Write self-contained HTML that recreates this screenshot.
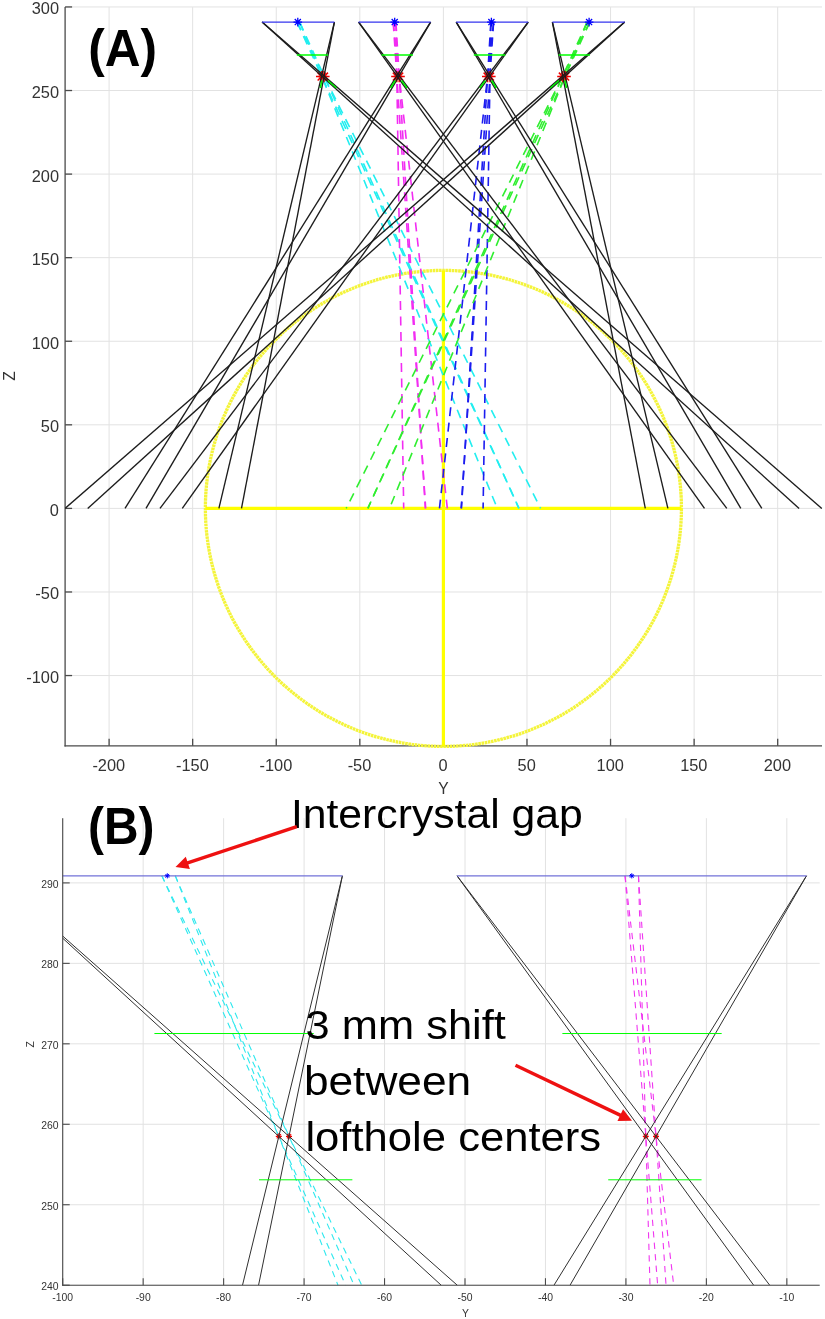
<!DOCTYPE html>
<html><head><meta charset="utf-8"><title>Lofthole collimator geometry</title>
<style>
html,body{margin:0;padding:0;background:#fff;}
svg{display:block;}
text{font-family:'Liberation Sans', Arial, Helvetica, sans-serif;}
</style></head><body>
<svg width="825" height="1319" viewBox="0 0 825 1319">
<rect width="825" height="1319" fill="#fff"/>
<g id="panelA">
<defs><clipPath id="cA"><rect x="65.1" y="6.1" width="757.9" height="742.7"/></clipPath><clipPath id="cB"><rect x="62.7" y="818.2" width="757" height="467.5"/></clipPath></defs>
<line x1="109.1" y1="7.1" x2="109.1" y2="745.8" stroke="#e2e2e2" stroke-width="1"/>
<line x1="192.67" y1="7.1" x2="192.67" y2="745.8" stroke="#e2e2e2" stroke-width="1"/>
<line x1="276.25" y1="7.1" x2="276.25" y2="745.8" stroke="#e2e2e2" stroke-width="1"/>
<line x1="359.82" y1="7.1" x2="359.82" y2="745.8" stroke="#e2e2e2" stroke-width="1"/>
<line x1="443.4" y1="7.1" x2="443.4" y2="745.8" stroke="#e2e2e2" stroke-width="1"/>
<line x1="526.98" y1="7.1" x2="526.98" y2="745.8" stroke="#e2e2e2" stroke-width="1"/>
<line x1="610.55" y1="7.1" x2="610.55" y2="745.8" stroke="#e2e2e2" stroke-width="1"/>
<line x1="694.12" y1="7.1" x2="694.12" y2="745.8" stroke="#e2e2e2" stroke-width="1"/>
<line x1="777.7" y1="7.1" x2="777.7" y2="745.8" stroke="#e2e2e2" stroke-width="1"/>
<line x1="65.1" y1="675.55" x2="822" y2="675.55" stroke="#e2e2e2" stroke-width="1"/>
<line x1="65.1" y1="591.98" x2="822" y2="591.98" stroke="#e2e2e2" stroke-width="1"/>
<line x1="65.1" y1="508.4" x2="822" y2="508.4" stroke="#e2e2e2" stroke-width="1"/>
<line x1="65.1" y1="424.82" x2="822" y2="424.82" stroke="#e2e2e2" stroke-width="1"/>
<line x1="65.1" y1="341.25" x2="822" y2="341.25" stroke="#e2e2e2" stroke-width="1"/>
<line x1="65.1" y1="257.67" x2="822" y2="257.67" stroke="#e2e2e2" stroke-width="1"/>
<line x1="65.1" y1="174.1" x2="822" y2="174.1" stroke="#e2e2e2" stroke-width="1"/>
<line x1="65.1" y1="90.52" x2="822" y2="90.52" stroke="#e2e2e2" stroke-width="1"/>
<line x1="65.1" y1="6.95" x2="822" y2="6.95" stroke="#e2e2e2" stroke-width="1"/>
<line x1="65.1" y1="7.1" x2="65.1" y2="746.4" stroke="#4a4a4a" stroke-width="1.3"/>
<line x1="64.5" y1="745.8" x2="822" y2="745.8" stroke="#4a4a4a" stroke-width="1.3"/>
<line x1="109.1" y1="745.8" x2="109.1" y2="738.8" stroke="#4a4a4a" stroke-width="1.3"/>
<line x1="192.67" y1="745.8" x2="192.67" y2="738.8" stroke="#4a4a4a" stroke-width="1.3"/>
<line x1="276.25" y1="745.8" x2="276.25" y2="738.8" stroke="#4a4a4a" stroke-width="1.3"/>
<line x1="359.82" y1="745.8" x2="359.82" y2="738.8" stroke="#4a4a4a" stroke-width="1.3"/>
<line x1="443.4" y1="745.8" x2="443.4" y2="738.8" stroke="#4a4a4a" stroke-width="1.3"/>
<line x1="526.98" y1="745.8" x2="526.98" y2="738.8" stroke="#4a4a4a" stroke-width="1.3"/>
<line x1="610.55" y1="745.8" x2="610.55" y2="738.8" stroke="#4a4a4a" stroke-width="1.3"/>
<line x1="694.12" y1="745.8" x2="694.12" y2="738.8" stroke="#4a4a4a" stroke-width="1.3"/>
<line x1="777.7" y1="745.8" x2="777.7" y2="738.8" stroke="#4a4a4a" stroke-width="1.3"/>
<line x1="65.1" y1="675.55" x2="72.1" y2="675.55" stroke="#4a4a4a" stroke-width="1.3"/>
<line x1="65.1" y1="591.98" x2="72.1" y2="591.98" stroke="#4a4a4a" stroke-width="1.3"/>
<line x1="65.1" y1="508.4" x2="72.1" y2="508.4" stroke="#4a4a4a" stroke-width="1.3"/>
<line x1="65.1" y1="424.82" x2="72.1" y2="424.82" stroke="#4a4a4a" stroke-width="1.3"/>
<line x1="65.1" y1="341.25" x2="72.1" y2="341.25" stroke="#4a4a4a" stroke-width="1.3"/>
<line x1="65.1" y1="257.67" x2="72.1" y2="257.67" stroke="#4a4a4a" stroke-width="1.3"/>
<line x1="65.1" y1="174.1" x2="72.1" y2="174.1" stroke="#4a4a4a" stroke-width="1.3"/>
<line x1="65.1" y1="90.52" x2="72.1" y2="90.52" stroke="#4a4a4a" stroke-width="1.3"/>
<line x1="65.1" y1="6.95" x2="72.1" y2="6.95" stroke="#4a4a4a" stroke-width="1.3"/>
<g clip-path="url(#cA)">
<circle cx="443.4" cy="508.4" r="238.02" fill="none" stroke="#f4f43a" stroke-width="3.3" stroke-dasharray="2.6 0.6"/>
<line x1="205.38" y1="508.4" x2="681.42" y2="508.4" stroke="#ffff00" stroke-width="3.2"/>
<line x1="443.4" y1="270.38" x2="443.4" y2="746.42" stroke="#ffff00" stroke-width="3.2"/>
<line x1="297" y1="22.1" x2="518.95" y2="508.4" stroke="#22eef0" stroke-width="1.6" stroke-dasharray="9 6.5"/>
<line x1="297" y1="22.1" x2="540.6" y2="508.4" stroke="#22eef0" stroke-width="1.6" stroke-dasharray="9 6.5"/>
<line x1="299.7" y1="22.1" x2="497.29" y2="508.4" stroke="#22eef0" stroke-width="1.6" stroke-dasharray="9 6.5"/>
<line x1="299.7" y1="22.1" x2="518.94" y2="508.4" stroke="#22eef0" stroke-width="1.6" stroke-dasharray="9 6.5"/>
<line x1="393.2" y1="22.1" x2="425.68" y2="508.4" stroke="#f22cf2" stroke-width="1.6" stroke-dasharray="9 6.5"/>
<line x1="393.2" y1="22.1" x2="447.33" y2="508.4" stroke="#f22cf2" stroke-width="1.6" stroke-dasharray="9 6.5"/>
<line x1="395.94" y1="22.1" x2="403.7" y2="508.4" stroke="#f22cf2" stroke-width="1.6" stroke-dasharray="9 6.5"/>
<line x1="395.94" y1="22.1" x2="425.35" y2="508.4" stroke="#f22cf2" stroke-width="1.6" stroke-dasharray="9 6.5"/>
<line x1="490.86" y1="22.1" x2="461.45" y2="508.4" stroke="#1c1cf0" stroke-width="1.6" stroke-dasharray="9 6.5"/>
<line x1="490.86" y1="22.1" x2="483.1" y2="508.4" stroke="#1c1cf0" stroke-width="1.6" stroke-dasharray="9 6.5"/>
<line x1="493.6" y1="22.1" x2="439.47" y2="508.4" stroke="#1c1cf0" stroke-width="1.6" stroke-dasharray="9 6.5"/>
<line x1="493.6" y1="22.1" x2="461.12" y2="508.4" stroke="#1c1cf0" stroke-width="1.6" stroke-dasharray="9 6.5"/>
<line x1="587.1" y1="22.1" x2="367.86" y2="508.4" stroke="#30ee30" stroke-width="1.6" stroke-dasharray="9 6.5"/>
<line x1="587.1" y1="22.1" x2="389.51" y2="508.4" stroke="#30ee30" stroke-width="1.6" stroke-dasharray="9 6.5"/>
<line x1="589.8" y1="22.1" x2="346.2" y2="508.4" stroke="#30ee30" stroke-width="1.6" stroke-dasharray="9 6.5"/>
<line x1="589.8" y1="22.1" x2="367.85" y2="508.4" stroke="#30ee30" stroke-width="1.6" stroke-dasharray="9 6.5"/>
<path d="M316 76.6L327.2 76.6M317.64 72.64L325.56 80.56M321.6 71L321.6 82.2M325.56 72.64L317.64 80.56" stroke="#ee0000" stroke-width="1.5" fill="none"/>
<path d="M318.4 76.6L329.6 76.6M320.04 72.64L327.96 80.56M324 71L324 82.2M327.96 72.64L320.04 80.56" stroke="#ee0000" stroke-width="1.5" fill="none"/>
<path d="M391.2 76.6L402.4 76.6M392.84 72.64L400.76 80.56M396.8 71L396.8 82.2M400.76 72.64L392.84 80.56" stroke="#ee0000" stroke-width="1.5" fill="none"/>
<path d="M393.6 76.6L404.8 76.6M395.24 72.64L403.16 80.56M399.2 71L399.2 82.2M403.16 72.64L395.24 80.56" stroke="#ee0000" stroke-width="1.5" fill="none"/>
<path d="M482 76.6L493.2 76.6M483.64 72.64L491.56 80.56M487.6 71L487.6 82.2M491.56 72.64L483.64 80.56" stroke="#ee0000" stroke-width="1.5" fill="none"/>
<path d="M484.4 76.6L495.6 76.6M486.04 72.64L493.96 80.56M490 71L490 82.2M493.96 72.64L486.04 80.56" stroke="#ee0000" stroke-width="1.5" fill="none"/>
<path d="M557.2 76.6L568.4 76.6M558.84 72.64L566.76 80.56M562.8 71L562.8 82.2M566.76 72.64L558.84 80.56" stroke="#ee0000" stroke-width="1.5" fill="none"/>
<path d="M559.6 76.6L570.8 76.6M561.24 72.64L569.16 80.56M565.2 71L565.2 82.2M569.16 72.64L561.24 80.56" stroke="#ee0000" stroke-width="1.5" fill="none"/>
<line x1="262.1" y1="22.1" x2="799.1" y2="508.4" stroke="#1c1c1c" stroke-width="1.35"/>
<line x1="262.1" y1="22.1" x2="821.8" y2="508.4" stroke="#1c1c1c" stroke-width="1.35"/>
<line x1="334.4" y1="22.1" x2="218.9" y2="508.4" stroke="#1c1c1c" stroke-width="1.35"/>
<line x1="334.4" y1="22.1" x2="241.5" y2="508.4" stroke="#1c1c1c" stroke-width="1.35"/>
<line x1="358.6" y1="22.1" x2="704.5" y2="508.4" stroke="#1c1c1c" stroke-width="1.35"/>
<line x1="358.6" y1="22.1" x2="726.8" y2="508.4" stroke="#1c1c1c" stroke-width="1.35"/>
<line x1="430.6" y1="22.1" x2="125" y2="508.4" stroke="#1c1c1c" stroke-width="1.35"/>
<line x1="430.6" y1="22.1" x2="146" y2="508.4" stroke="#1c1c1c" stroke-width="1.35"/>
<line x1="456.2" y1="22.1" x2="761.8" y2="508.4" stroke="#1c1c1c" stroke-width="1.35"/>
<line x1="456.2" y1="22.1" x2="740.8" y2="508.4" stroke="#1c1c1c" stroke-width="1.35"/>
<line x1="528.2" y1="22.1" x2="182.3" y2="508.4" stroke="#1c1c1c" stroke-width="1.35"/>
<line x1="528.2" y1="22.1" x2="160" y2="508.4" stroke="#1c1c1c" stroke-width="1.35"/>
<line x1="552.4" y1="22.1" x2="667.9" y2="508.4" stroke="#1c1c1c" stroke-width="1.35"/>
<line x1="552.4" y1="22.1" x2="645.3" y2="508.4" stroke="#1c1c1c" stroke-width="1.35"/>
<line x1="624.7" y1="22.1" x2="87.7" y2="508.4" stroke="#1c1c1c" stroke-width="1.35"/>
<line x1="624.7" y1="22.1" x2="65" y2="508.4" stroke="#1c1c1c" stroke-width="1.35"/>
<line x1="296.8" y1="54.9" x2="328.2" y2="54.9" stroke="#00ff00" stroke-width="1.5"/>
<line x1="381.5" y1="54.9" x2="413" y2="54.9" stroke="#00ff00" stroke-width="1.5"/>
<line x1="473.8" y1="54.9" x2="505.3" y2="54.9" stroke="#00ff00" stroke-width="1.5"/>
<line x1="558.6" y1="54.9" x2="590" y2="54.9" stroke="#00ff00" stroke-width="1.5"/>
<line x1="321.89" y1="80.5" x2="320.28" y2="88" stroke="#00ee00" stroke-width="1.6"/>
<line x1="327.95" y1="80.5" x2="336.41" y2="88" stroke="#00ee00" stroke-width="1.6"/>
<line x1="395.16" y1="80.5" x2="390.61" y2="88" stroke="#00ee00" stroke-width="1.6"/>
<line x1="401.48" y1="80.5" x2="406.98" y2="88" stroke="#00ee00" stroke-width="1.6"/>
<line x1="485.32" y1="80.5" x2="479.82" y2="88" stroke="#00ee00" stroke-width="1.6"/>
<line x1="491.64" y1="80.5" x2="496.19" y2="88" stroke="#00ee00" stroke-width="1.6"/>
<line x1="558.85" y1="80.5" x2="550.39" y2="88" stroke="#00ee00" stroke-width="1.6"/>
<line x1="564.91" y1="80.5" x2="566.52" y2="88" stroke="#00ee00" stroke-width="1.6"/>
<line x1="262.1" y1="22.1" x2="334.4" y2="22.1" stroke="#3535ee" stroke-width="1.4"/>
<line x1="358.6" y1="22.1" x2="430.6" y2="22.1" stroke="#3535ee" stroke-width="1.4"/>
<line x1="456.2" y1="22.1" x2="528.2" y2="22.1" stroke="#3535ee" stroke-width="1.4"/>
<line x1="552.4" y1="22.1" x2="624.7" y2="22.1" stroke="#3535ee" stroke-width="1.4"/>
<path d="M293.5 22.1L302.1 22.1M294.76 19.06L300.84 25.14M297.8 17.8L297.8 26.4M300.84 19.06L294.76 25.14" stroke="#0000ff" stroke-width="1.3" fill="none"/>
<path d="M390.4 22.1L399 22.1M391.66 19.06L397.74 25.14M394.7 17.8L394.7 26.4M397.74 19.06L391.66 25.14" stroke="#0000ff" stroke-width="1.3" fill="none"/>
<path d="M487.1 22.1L495.7 22.1M488.36 19.06L494.44 25.14M491.4 17.8L491.4 26.4M494.44 19.06L488.36 25.14" stroke="#0000ff" stroke-width="1.3" fill="none"/>
<path d="M584.8 22.1L593.4 22.1M586.06 19.06L592.14 25.14M589.1 17.8L589.1 26.4M592.14 19.06L586.06 25.14" stroke="#0000ff" stroke-width="1.3" fill="none"/>
</g>
<text x="108.8" y="770.5" text-anchor="middle" font-size="15.6" fill="#333333" textLength="32.78" lengthAdjust="spacingAndGlyphs">-200</text>
<text x="192.37" y="770.5" text-anchor="middle" font-size="15.6" fill="#333333" textLength="32.78" lengthAdjust="spacingAndGlyphs">-150</text>
<text x="275.95" y="770.5" text-anchor="middle" font-size="15.6" fill="#333333" textLength="32.78" lengthAdjust="spacingAndGlyphs">-100</text>
<text x="359.52" y="770.5" text-anchor="middle" font-size="15.6" fill="#333333" textLength="23.67" lengthAdjust="spacingAndGlyphs">-50</text>
<text x="443.1" y="770.5" text-anchor="middle" font-size="15.6" fill="#333333" textLength="9.11" lengthAdjust="spacingAndGlyphs">0</text>
<text x="526.68" y="770.5" text-anchor="middle" font-size="15.6" fill="#333333" textLength="18.21" lengthAdjust="spacingAndGlyphs">50</text>
<text x="610.25" y="770.5" text-anchor="middle" font-size="15.6" fill="#333333" textLength="27.32" lengthAdjust="spacingAndGlyphs">100</text>
<text x="693.83" y="770.5" text-anchor="middle" font-size="15.6" fill="#333333" textLength="27.32" lengthAdjust="spacingAndGlyphs">150</text>
<text x="777.4" y="770.5" text-anchor="middle" font-size="15.6" fill="#333333" textLength="27.32" lengthAdjust="spacingAndGlyphs">200</text>
<text x="59" y="682.95" text-anchor="end" font-size="15.6" fill="#333333" textLength="32.78" lengthAdjust="spacingAndGlyphs">-100</text>
<text x="59" y="599.38" text-anchor="end" font-size="15.6" fill="#333333" textLength="23.67" lengthAdjust="spacingAndGlyphs">-50</text>
<text x="59" y="515.8" text-anchor="end" font-size="15.6" fill="#333333" textLength="9.11" lengthAdjust="spacingAndGlyphs">0</text>
<text x="59" y="432.22" text-anchor="end" font-size="15.6" fill="#333333" textLength="18.21" lengthAdjust="spacingAndGlyphs">50</text>
<text x="59" y="348.65" text-anchor="end" font-size="15.6" fill="#333333" textLength="27.32" lengthAdjust="spacingAndGlyphs">100</text>
<text x="59" y="265.07" text-anchor="end" font-size="15.6" fill="#333333" textLength="27.32" lengthAdjust="spacingAndGlyphs">150</text>
<text x="59" y="181.5" text-anchor="end" font-size="15.6" fill="#333333" textLength="27.32" lengthAdjust="spacingAndGlyphs">200</text>
<text x="59" y="97.92" text-anchor="end" font-size="15.6" fill="#333333" textLength="27.32" lengthAdjust="spacingAndGlyphs">250</text>
<text x="59" y="14.35" text-anchor="end" font-size="15.6" fill="#333333" textLength="27.32" lengthAdjust="spacingAndGlyphs">300</text>
<text x="443.4" y="793.8" text-anchor="middle" font-size="15.6" fill="#333333">Y</text>
<text transform="translate(15.4 376) rotate(-90)" text-anchor="middle" font-size="15.6" fill="#333333">Z</text>
<text x="88.2" y="65.9" font-size="52" font-weight="bold" fill="#000" textLength="68.7" lengthAdjust="spacingAndGlyphs">(A)</text>
</g>
<g id="panelB">
<line x1="62.7" y1="818.2" x2="62.7" y2="1285.2" stroke="#e2e2e2" stroke-width="1"/>
<line x1="143.16" y1="818.2" x2="143.16" y2="1285.2" stroke="#e2e2e2" stroke-width="1"/>
<line x1="223.62" y1="818.2" x2="223.62" y2="1285.2" stroke="#e2e2e2" stroke-width="1"/>
<line x1="304.08" y1="818.2" x2="304.08" y2="1285.2" stroke="#e2e2e2" stroke-width="1"/>
<line x1="384.54" y1="818.2" x2="384.54" y2="1285.2" stroke="#e2e2e2" stroke-width="1"/>
<line x1="465" y1="818.2" x2="465" y2="1285.2" stroke="#e2e2e2" stroke-width="1"/>
<line x1="545.46" y1="818.2" x2="545.46" y2="1285.2" stroke="#e2e2e2" stroke-width="1"/>
<line x1="625.92" y1="818.2" x2="625.92" y2="1285.2" stroke="#e2e2e2" stroke-width="1"/>
<line x1="706.38" y1="818.2" x2="706.38" y2="1285.2" stroke="#e2e2e2" stroke-width="1"/>
<line x1="786.84" y1="818.2" x2="786.84" y2="1285.2" stroke="#e2e2e2" stroke-width="1"/>
<line x1="62.7" y1="1285.2" x2="819.7" y2="1285.2" stroke="#e2e2e2" stroke-width="1"/>
<line x1="62.7" y1="1204.74" x2="819.7" y2="1204.74" stroke="#e2e2e2" stroke-width="1"/>
<line x1="62.7" y1="1124.28" x2="819.7" y2="1124.28" stroke="#e2e2e2" stroke-width="1"/>
<line x1="62.7" y1="1043.82" x2="819.7" y2="1043.82" stroke="#e2e2e2" stroke-width="1"/>
<line x1="62.7" y1="963.36" x2="819.7" y2="963.36" stroke="#e2e2e2" stroke-width="1"/>
<line x1="62.7" y1="882.9" x2="819.7" y2="882.9" stroke="#e2e2e2" stroke-width="1"/>
<g clip-path="url(#cB)">
<line x1="161.83" y1="875.82" x2="345.66" y2="1285.2" stroke="#2ee8ee" stroke-width="1.1" stroke-dasharray="6.3 5.2"/>
<line x1="161.83" y1="875.82" x2="361.71" y2="1285.2" stroke="#2ee8ee" stroke-width="1.1" stroke-dasharray="6.3 5.2"/>
<line x1="175.26" y1="875.82" x2="337.98" y2="1285.2" stroke="#2ee8ee" stroke-width="1.1" stroke-dasharray="6.3 5.2"/>
<line x1="175.26" y1="875.82" x2="354.04" y2="1285.2" stroke="#2ee8ee" stroke-width="1.1" stroke-dasharray="6.3 5.2"/>
<line x1="625.03" y1="875.82" x2="657.65" y2="1285.2" stroke="#f036f0" stroke-width="1.1" stroke-dasharray="6.3 5.2"/>
<line x1="625.03" y1="875.82" x2="673.71" y2="1285.2" stroke="#f036f0" stroke-width="1.1" stroke-dasharray="6.3 5.2"/>
<line x1="638.47" y1="875.82" x2="649.98" y2="1285.2" stroke="#f036f0" stroke-width="1.1" stroke-dasharray="6.3 5.2"/>
<line x1="638.47" y1="875.82" x2="666.03" y2="1285.2" stroke="#f036f0" stroke-width="1.1" stroke-dasharray="6.3 5.2"/>
<path d="M275.82 1136.35L281.82 1136.35M276.69 1134.23L280.94 1138.47M278.82 1133.35L278.82 1139.35M280.94 1134.23L276.69 1138.47" stroke="#ee0000" stroke-width="1.1" fill="none"/>
<path d="M286.03 1136.35L292.03 1136.35M286.91 1134.23L291.16 1138.47M289.03 1133.35L289.03 1139.35M291.16 1134.23L286.91 1138.47" stroke="#ee0000" stroke-width="1.1" fill="none"/>
<path d="M642.79 1136.35L648.79 1136.35M643.67 1134.23L647.91 1138.47M645.79 1133.35L645.79 1139.35M647.91 1134.23L643.67 1138.47" stroke="#ee0000" stroke-width="1.1" fill="none"/>
<path d="M653.01 1136.35L659.01 1136.35M653.89 1134.23L658.13 1138.47M656.01 1133.35L656.01 1139.35M658.13 1134.23L653.89 1138.47" stroke="#ee0000" stroke-width="1.1" fill="none"/>
<line x1="-5.37" y1="875.82" x2="441.18" y2="1285.2" stroke="#303030" stroke-width="1"/>
<line x1="-5.37" y1="875.82" x2="457.24" y2="1285.2" stroke="#303030" stroke-width="1"/>
<line x1="342.38" y1="875.82" x2="242.5" y2="1285.2" stroke="#303030" stroke-width="1"/>
<line x1="342.38" y1="875.82" x2="258.56" y2="1285.2" stroke="#303030" stroke-width="1"/>
<line x1="457.03" y1="875.82" x2="753.64" y2="1285.2" stroke="#303030" stroke-width="1"/>
<line x1="457.03" y1="875.82" x2="769.7" y2="1285.2" stroke="#303030" stroke-width="1"/>
<line x1="806.47" y1="875.82" x2="553.99" y2="1285.2" stroke="#303030" stroke-width="1"/>
<line x1="806.47" y1="875.82" x2="570.05" y2="1285.2" stroke="#303030" stroke-width="1"/>
<line x1="154.42" y1="1033.52" x2="313.74" y2="1033.52" stroke="#00ff00" stroke-width="1"/>
<line x1="259.02" y1="1179.8" x2="352.36" y2="1179.8" stroke="#00ff00" stroke-width="1"/>
<line x1="562.36" y1="1033.52" x2="721.67" y2="1033.52" stroke="#00ff00" stroke-width="1"/>
<line x1="608.22" y1="1179.8" x2="701.55" y2="1179.8" stroke="#00ff00" stroke-width="1"/>
<line x1="-5.37" y1="875.82" x2="342.38" y2="875.82" stroke="#7272d8" stroke-width="1.3"/>
<line x1="457.03" y1="875.82" x2="806.47" y2="875.82" stroke="#7272d8" stroke-width="1.3"/>
<path d="M164.7 875.82L169.9 875.82M165.46 873.98L169.14 877.66M167.3 873.22L167.3 878.42M169.14 873.98L165.46 877.66" stroke="#0000ff" stroke-width="1" fill="none"/>
<path d="M629.19 875.82L634.39 875.82M629.96 873.98L633.63 877.66M631.79 873.22L631.79 878.42M633.63 873.98L629.96 877.66" stroke="#0000ff" stroke-width="1" fill="none"/>
</g>
<line x1="62.7" y1="818.2" x2="62.7" y2="1285.7" stroke="#4a4a4a" stroke-width="1.1"/>
<line x1="62.2" y1="1285.2" x2="819.7" y2="1285.2" stroke="#4a4a4a" stroke-width="1.1"/>
<line x1="62.7" y1="1285.2" x2="62.7" y2="1278.2" stroke="#4a4a4a" stroke-width="1.1"/>
<line x1="143.16" y1="1285.2" x2="143.16" y2="1278.2" stroke="#4a4a4a" stroke-width="1.1"/>
<line x1="223.62" y1="1285.2" x2="223.62" y2="1278.2" stroke="#4a4a4a" stroke-width="1.1"/>
<line x1="304.08" y1="1285.2" x2="304.08" y2="1278.2" stroke="#4a4a4a" stroke-width="1.1"/>
<line x1="384.54" y1="1285.2" x2="384.54" y2="1278.2" stroke="#4a4a4a" stroke-width="1.1"/>
<line x1="465" y1="1285.2" x2="465" y2="1278.2" stroke="#4a4a4a" stroke-width="1.1"/>
<line x1="545.46" y1="1285.2" x2="545.46" y2="1278.2" stroke="#4a4a4a" stroke-width="1.1"/>
<line x1="625.92" y1="1285.2" x2="625.92" y2="1278.2" stroke="#4a4a4a" stroke-width="1.1"/>
<line x1="706.38" y1="1285.2" x2="706.38" y2="1278.2" stroke="#4a4a4a" stroke-width="1.1"/>
<line x1="786.84" y1="1285.2" x2="786.84" y2="1278.2" stroke="#4a4a4a" stroke-width="1.1"/>
<line x1="62.7" y1="1285.2" x2="69.7" y2="1285.2" stroke="#4a4a4a" stroke-width="1.1"/>
<line x1="62.7" y1="1204.74" x2="69.7" y2="1204.74" stroke="#4a4a4a" stroke-width="1.1"/>
<line x1="62.7" y1="1124.28" x2="69.7" y2="1124.28" stroke="#4a4a4a" stroke-width="1.1"/>
<line x1="62.7" y1="1043.82" x2="69.7" y2="1043.82" stroke="#4a4a4a" stroke-width="1.1"/>
<line x1="62.7" y1="963.36" x2="69.7" y2="963.36" stroke="#4a4a4a" stroke-width="1.1"/>
<line x1="62.7" y1="882.9" x2="69.7" y2="882.9" stroke="#4a4a4a" stroke-width="1.1"/>
<text x="62.7" y="1301" text-anchor="middle" font-size="10.4" fill="#333333">-100</text>
<text x="143.16" y="1301" text-anchor="middle" font-size="10.4" fill="#333333">-90</text>
<text x="223.62" y="1301" text-anchor="middle" font-size="10.4" fill="#333333">-80</text>
<text x="304.08" y="1301" text-anchor="middle" font-size="10.4" fill="#333333">-70</text>
<text x="384.54" y="1301" text-anchor="middle" font-size="10.4" fill="#333333">-60</text>
<text x="465" y="1301" text-anchor="middle" font-size="10.4" fill="#333333">-50</text>
<text x="545.46" y="1301" text-anchor="middle" font-size="10.4" fill="#333333">-40</text>
<text x="625.92" y="1301" text-anchor="middle" font-size="10.4" fill="#333333">-30</text>
<text x="706.38" y="1301" text-anchor="middle" font-size="10.4" fill="#333333">-20</text>
<text x="786.84" y="1301" text-anchor="middle" font-size="10.4" fill="#333333">-10</text>
<text x="58.6" y="1290.1" text-anchor="end" font-size="10.4" fill="#333333">240</text>
<text x="58.6" y="1209.64" text-anchor="end" font-size="10.4" fill="#333333">250</text>
<text x="58.6" y="1129.18" text-anchor="end" font-size="10.4" fill="#333333">260</text>
<text x="58.6" y="1048.72" text-anchor="end" font-size="10.4" fill="#333333">270</text>
<text x="58.6" y="968.26" text-anchor="end" font-size="10.4" fill="#333333">280</text>
<text x="58.6" y="887.8" text-anchor="end" font-size="10.4" fill="#333333">290</text>
<text x="465.5" y="1316.6" text-anchor="middle" font-size="10.4" fill="#333333">Y</text>
<text transform="translate(34.2 1044.3) rotate(-90)" text-anchor="middle" font-size="10.4" fill="#333333">Z</text>
<text x="88.0" y="843.8" font-size="52" font-weight="bold" fill="#000" textLength="66.4" lengthAdjust="spacingAndGlyphs">(B)</text>
<text x="290.9" y="827.6" font-size="41" fill="#000" textLength="291.9" lengthAdjust="spacingAndGlyphs">Intercrystal gap</text>
<text x="305.6" y="1039" font-size="41.5" fill="#000" textLength="200.2" lengthAdjust="spacingAndGlyphs">3 mm shift</text>
<text x="303.9" y="1094.9" font-size="41.5" fill="#000" textLength="167.3" lengthAdjust="spacingAndGlyphs">between</text>
<text x="305.4" y="1151" font-size="41.5" fill="#000" textLength="295.8" lengthAdjust="spacingAndGlyphs">lofthole centers</text>
<line x1="296.8" y1="826.6" x2="186.89" y2="863.21" stroke="#ee1111" stroke-width="3.4"/>
<path d="M175.5 867L185.78 856.73L189.89 869.06Z" fill="#ee1111"/>
<line x1="515.5" y1="1065.3" x2="621.17" y2="1115.64" stroke="#ee1111" stroke-width="3.4"/>
<path d="M632 1120.8L617.47 1121.08L623.06 1109.34Z" fill="#ee1111"/>
</g>
</svg>
</body></html>
